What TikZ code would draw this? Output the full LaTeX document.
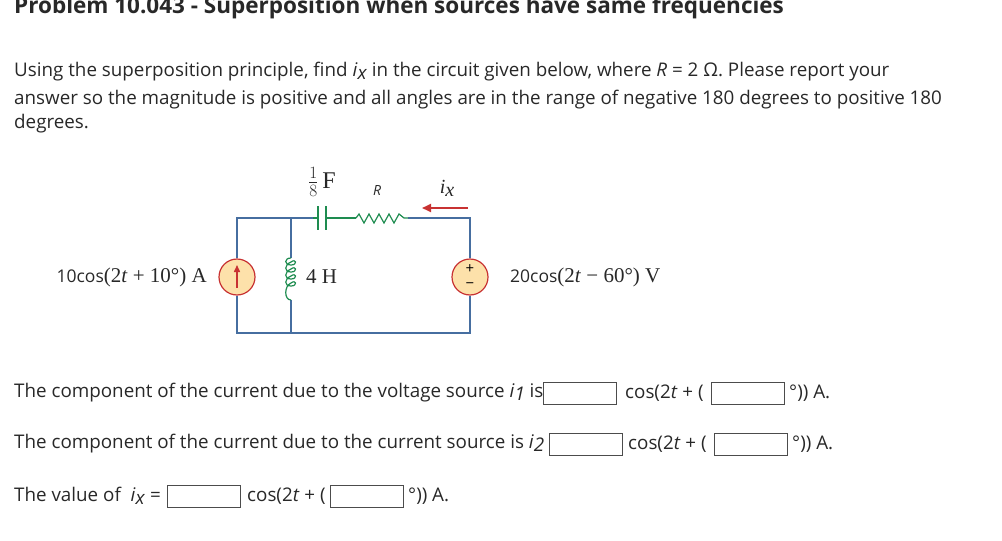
\documentclass[tikz,border=0pt]{standalone}
\usepackage{fontspec}
\setmainfont{Open Sans}
\newfontfamily\serifm{Liberation Serif}
\usetikzlibrary{decorations.pathmorphing,arrows.meta}
\definecolor{wire}{RGB}{70,110,160}
\definecolor{comp}{RGB}{30,140,80}
\definecolor{srcfill}{RGB}{253,225,170}
\definecolor{srcline}{RGB}{200,50,50}
\definecolor{txt}{RGB}{40,40,40}
\tikzset{
 w/.style={draw=wire,line width=1.2pt},
 src/.style={circle,draw=srcline,fill=srcfill,line width=1.2pt,minimum size=36pt,inner sep=0pt},
 ansbox/.style={draw=black!70,line width=0.8pt,minimum width=73pt,minimum height=22pt,inner sep=0pt},
 t/.style={anchor=west,inner sep=0pt,text=txt,font=\fontsize{18.8}{22}\selectfont}
}
\begin{document}
\begin{tikzpicture}[x=1pt,y=-1pt]
\useasboundingbox (0,0) rectangle (1002,541);
\node[anchor=west,inner sep=0pt,font=\bfseries\fontsize{22.5}{25}\selectfont,text=txt] (title) at (14,8) {Problem 10.043 - Superposition when sources have same frequencies};
\node[t] (p1) at (14,72) {Using the superposition principle, find \textit{i}\raisebox{-3pt}{\textit{x}} in the circuit given below, where \textit{R} = 2 Ω. Please report your};
\node[t] (p2) at (14,100) {answer so the magnitude is positive and all angles are in the range of negative 180 degrees to positive 180};
\node[t] (p3) at (14,124) {degrees.};
% circuit
\coordinate (tl) at (237,218); \coordinate (tm) at (291,218); \coordinate (tr) at (470,218);
\coordinate (bl) at (237,333); \coordinate (bm) at (291,333); \coordinate (br) at (470,333);
\node[src] (cs) at (237,277) {};
\node[src] (vs) at (470,277) {};
\draw[srcline,line width=1.5pt,-{Triangle[length=7pt,width=6pt]}] (237,288) -- (237,265);
\node[inner sep=0pt,font=\fontsize{15}{15}\selectfont,text=black] (vp) at (470,269) {+};
\node[inner sep=0pt,font=\fontsize{15}{15}\selectfont,text=black] (vm) at (470,286) {−};
\draw[w] (cs.north) -- (tl) -- (tm) -- (313,218);
\draw[w] (cs.south) -- (bl) -- (br) -- (vs.south);
\draw[w] (vs.north) -- (tr) -- (408,218);
\draw[w] (tm) -- (291,258); \draw[w] (291,300) -- (bm);
\draw[comp,line width=1.2pt] (313,218)--(318,218) (318,206)--(318,230) (326,206)--(326,230) (326,218)--(356,218);
\draw[comp,line width=1.2pt] (356,218) -- (359,214) -- (364,223) -- (369,214) -- (374,223) -- (379,214) -- (384,223) -- (389,214) -- (394,223) -- (399,214) -- (404,218) -- (408,218);
\draw[comp,line width=1.2pt] (291,258) .. controls (284,258) and (284,265) .. (291,265) .. controls (298,265) and (296,258) .. (291,262)
 .. controls (284,265) and (284,272) .. (291,272) .. controls (298,272) and (296,265) .. (291,269)
 .. controls (284,272) and (284,279) .. (291,279) .. controls (298,279) and (296,272) .. (291,276)
 .. controls (284,279) and (284,286) .. (291,286) .. controls (298,286) and (296,279) .. (291,283)
 .. controls (284,286) and (284,300) .. (291,300);
\draw[srcline,line width=2pt,-{Triangle[length=9pt,width=8pt]}] (468,208) -- (422,208);
\node[inner sep=0pt,font=\serifm\fontsize{24}{24}\selectfont,text=txt] (cl) at (322,182) {$\frac{1}{8}$\,F};
\node[inner sep=0pt,font=\itshape\fontsize{14}{14}\selectfont,text=txt] (rl) at (377,191) {R};
\node[inner sep=0pt,font=\serifm\fontsize{20}{20}\selectfont,text=txt] (ixl) at (447,188) {\textit{i}\raisebox{-3pt}{\textit{x}}};
\node[inner sep=0pt,anchor=west,font=\serifm\fontsize{21}{21}\selectfont,text=txt] (ll) at (306,277) {4 H};
\node[inner sep=0pt,anchor=east,font=\fontsize{17.5}{17}\selectfont,text=txt] (csl) at (207,277) {10cos{\serifm\fontsize{21}{21}\selectfont(2\textit{t} + 10°) A}};
\node[inner sep=0pt,anchor=west,font=\fontsize{17.5}{17}\selectfont,text=txt] (vsl) at (510,277) {20cos{\serifm\fontsize{21}{21}\selectfont(2\textit{t} − 60°) V}};
% answers
\node[t] (q1) at (14,393) {The component of the current due to the voltage source \textit{i}\raisebox{-3pt}{\textit{1}} is};
\node[ansbox,anchor=west] (b11) at (543,393) {};
\node[t] (c1) at (625,393) {cos(2\textit{t} + (};
\node[ansbox,anchor=west] (b12) at (711,393) {};
\node[t] (e1) at (789,393) {°)) A.};
\node[t] (q2) at (14,444) {The component of the current due to the current source is \textit{i}\raisebox{-3pt}{\textit{2}}};
\node[ansbox,anchor=west] (b21) at (549,444) {};
\node[t] (c2) at (628,444) {cos(2\textit{t} + (};
\node[ansbox,anchor=west] (b22) at (714,444) {};
\node[t] (e2) at (792,444) {°)) A.};
\node[t] (q3) at (14,496) {The value of \ \textit{i}\raisebox{-3pt}{\textit{x}} =};
\node[ansbox,anchor=west] (b31) at (167,496) {};
\node[t] (c3) at (247,496) {cos(2\textit{t} + (};
\node[ansbox,anchor=west] (b32) at (330,496) {};
\node[t] (e3) at (408,496) {°)) A.};
\end{tikzpicture}
\end{document}
